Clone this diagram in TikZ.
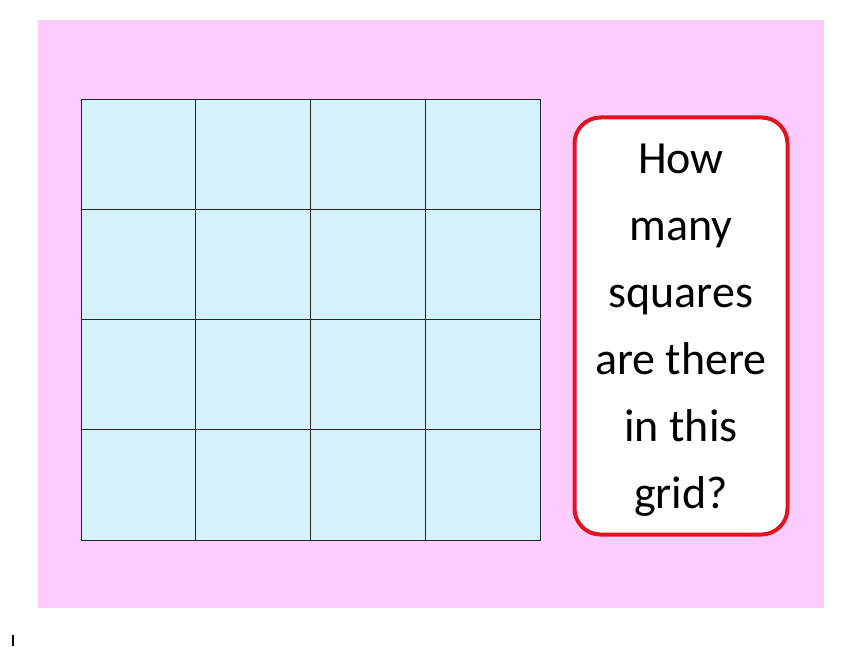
\documentclass[tikz,border=0pt]{standalone}
\usepackage{fontspec}
\setmainfont{Carlito}
\usepackage{xcolor}
\usepackage{tikz}
\usetikzlibrary{positioning}

\definecolor{slidepink}{HTML}{FFCCFF}
\definecolor{cellblue}{HTML}{D5F1FB}
\definecolor{boxred}{HTML}{E0141E}

\begin{document}
\begin{tikzpicture}[x=1pt,y=1pt,
    gridcell/.style={rectangle, draw=black!85, fill=cellblue, line width=0.9pt, minimum width=114.75pt, minimum height=110.25pt, inner sep=0pt},
    questionbox/.style={rectangle, rounded corners=26pt, draw=boxred, fill=white, line width=4pt, minimum width=213pt, minimum height=417pt, align=center, font=\fontsize{46}{67}\selectfont},]
            %Background
            \useasboundingbox (0,0) rectangle (860,646);
            \fill[slidepink] (38,38) rectangle (824,626);
            \draw[black, line width=1.3pt] (13,0) -- (13,11);

            %Nodes
            \foreach \row in {1,...,4}{
                \foreach \col in {1,...,4}{
                    \node[gridcell](cell-\row-\col) at ({81+114.75*(\col-0.5)},{547-110.25*(\row-0.5)}){};
                }
            }
            \node[questionbox](question) at (681,320){};
            \node[font=\fontsize{46}{67}\selectfont, align=center](questiontext) at (681,316){How\\many\\squares\\are there\\in this\\grid?};
        \end{tikzpicture}
\end{document}
